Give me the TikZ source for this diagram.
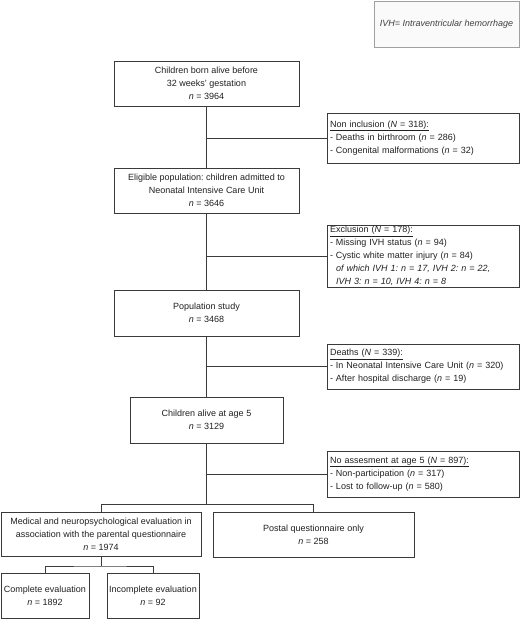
\documentclass[tikz,border=0pt]{standalone}
\usepackage{fontspec}
\setmainfont{Liberation Sans}
\definecolor{linec}{HTML}{3A3A3A}
\definecolor{txtc}{HTML}{202020}
\definecolor{ivhc}{HTML}{A0A0A0}
\newcommand{\fs}{\fontsize{9}{13}\selectfont\frenchspacing}
\newcommand{\nn}{\textit{n}}
\begin{document}
\frenchspacing
\begin{tikzpicture}[x=1pt,y=-1pt,
  box/.style={draw=linec, line width=0.8pt, rectangle, inner sep=0pt, align=center, font=\fs, text=txtc},
  sidebox/.style={draw=linec, line width=0.8pt, rectangle, inner ysep=0pt, inner xsep=3pt, align=left, font=\fs, text=txtc, text width=186pt},
  conn/.style={draw=linec, line width=0.8pt}]
\useasboundingbox (0,0) rectangle (520,619);
\node[draw=ivhc, fill=black!2, line width=0.8pt, minimum width=145pt, minimum height=46pt, inner sep=0pt, font=\fs\itshape, text=black!75] (ivh) at (446.5,24) {IVH= Intraventricular hemorrhage};
\node[box, minimum width=185pt, minimum height=45pt] (b1) at (206.5,83.5) {Children born alive before\\32 weeks' gestation\\\nn{} = 3964};
\node[sidebox, minimum height=50pt] (n1) at (423,138) {\underline{Non inclusion (\textit{N} = 318):}\\- Deaths in birthroom (\nn{} = 286)\\- Congenital malformations (\nn{} = 32)};
\node[box, minimum width=185pt, minimum height=45pt] (b2) at (206.5,190.5) {Eligible population: children admitted to\\Neonatal Intensive Care Unit\\\nn{} = 3646};
\node[sidebox, minimum height=62pt] (ex) at (423,256) {\underline{Exclusion (\textit{N} = 178):}\\- Missing IVH status (\nn{} = 94)\\- Cystic white matter injury (\nn{} = 84)\\\hspace*{6pt}\textit{of which IVH 1: n = 17, IVH 2: n = 22,}\\\hspace*{6pt}\textit{IVH 3: n = 10, IVH 4: n = 8}};
\node[box, minimum width=185pt, minimum height=46pt] (b3) at (206.5,313) {Population study\\\nn{} = 3468};
\node[sidebox, minimum height=45pt] (d) at (423,366.5) {\underline{Deaths (\textit{N} = 339):}\\- In Neonatal Intensive Care Unit (\nn{} = 320)\\- After hospital discharge (\nn{} = 19)};
\node[box, minimum width=153pt, minimum height=46pt] (b4) at (206.5,420) {Children alive at age 5\\\nn{} = 3129};
\node[sidebox, minimum height=46pt] (na) at (423,474) {\underline{No assesment at age 5 (\textit{N} = 897):}\\- Non-participation (\nn{} = 317)\\- Lost to follow-up (\nn{} = 580)};
\node[box, minimum width=200pt, minimum height=44pt] (b5) at (101,534) {Medical and neuropsychological evaluation in\\association with the parental questionnaire\\\nn{} = 1974};
\node[box, minimum width=201pt, minimum height=45pt] (b6) at (313.5,534.5) {Postal questionnaire only\\\nn{} = 258};
\node[box, minimum width=88pt, minimum height=45pt] (b7) at (45,595.5) {Complete evaluation\\\nn{} = 1892};
\node[box, minimum width=92pt, minimum height=45pt] (b8) at (153,595.5) {Incomplete evaluation\\\nn{} = 92};
\coordinate (s1) at (206.5,504);
\coordinate (s2) at (101,566);
\draw[conn] (b1.south) -- (b2.north);
\draw[conn] (b1.south |- n1.west) -- (n1.west);
\draw[conn] (b2.south) -- (b3.north);
\draw[conn] (b2.south |- ex.west) -- (ex.west);
\draw[conn] (b3.south) -- (b4.north);
\draw[conn] (b3.south |- d.west) -- (d.west);
\draw[conn] (b4.south) -- (s1);
\draw[conn] (b4.south |- na.west) -- (na.west);
\draw[conn] (b5.north) -- (b5.north |- s1) -- (b6.north |- s1) -- (b6.north);
\draw[conn] (b5.south) -- (s2);
\draw[conn] (b7.north) |- (s2) -| (b8.north);
\end{tikzpicture}
\end{document}
